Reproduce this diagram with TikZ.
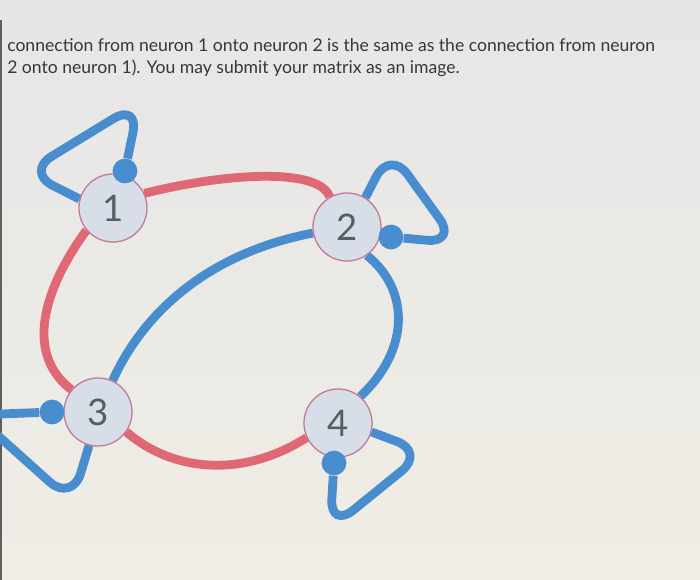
\documentclass[tikz,border=0pt]{standalone}
\usepackage{fontspec}
\setmainfont{Lato}
\definecolor{paper}{RGB}{230,230,230}
\definecolor{papercream}{RGB}{240,237,229}
\definecolor{ink}{RGB}{55,55,58}
\definecolor{digit}{RGB}{88,92,100}
\definecolor{nodefill}{RGB}{216,222,231}
\definecolor{nodeedge}{RGB}{196,118,150}
\definecolor{wirered}{RGB}{222,104,116}
\definecolor{wireblue}{RGB}{72,141,206}
\definecolor{screenedge}{RGB}{95,95,95}
\pgfdeclarelayer{back}
\pgfdeclarelayer{wires}
\pgfsetlayers{back,wires,main}

\begin{document}
\begin{tikzpicture}[
  x=0.025cm, y=-0.025cm,
  neuron/.style={circle, draw=nodeedge, line width=0.9pt, fill=nodefill, minimum size=1.7cm, inner sep=0pt, font=\fontsize{26}{26}\selectfont, text=digit},
  inhib/.style={line width=0.22cm, color=wirered},
  excit/.style={line width=0.22cm, color=wireblue},
  selfloop/.style={excit, rounded corners=0.75cm},
  knob/.style={circle, fill=wireblue, minimum size=0.62cm, inner sep=0pt}
]
\useasboundingbox (0,0) rectangle (700,580);

% Background
\begin{pgfonlayer}{back}
\shade[top color=paper, bottom color=papercream] (0,0) rectangle (700,580);
\draw[screenedge, line width=1.2pt] (1,20) -- (1,580);
\end{pgfonlayer}

% Question text
\node[anchor=north west, align=left, inner sep=0pt, text=ink, font=\fontsize{12.5}{15.6}\selectfont] (prompt) at (7,38) {connection from neuron 1 onto neuron 2 is the same as the connection from neuron\\2 onto neuron 1). You may submit your matrix as an image.};

% Neurons
\node[neuron] (n1) at (113,208) {1};
\node[neuron] (n2) at (347,227) {2};
\node[neuron] (n3) at (98,412) {3};
\node[neuron] (n4) at (338,423) {4};

% Loop ends
\node[knob] (d1) at (125,171) {};
\node[knob] (d2) at (391,237) {};
\node[knob] (d3) at (52,412) {};
\node[knob] (d4) at (334,463) {};

\begin{pgfonlayer}{wires}
% Red connections
\draw[inhib] (n1.25) .. controls (230,172) and (320,168) .. (n2.120);
\draw[inhib] (n1.220) .. controls (50,280) and (20,350) .. (n3.140);
\draw[inhib] (n3.-35) .. controls (170,470) and (240,480) .. (n4.205);

% Blue connections
\draw[excit] (n2.190) .. controls (200,255) and (140,320) .. (n3.65);
\draw[excit] (n2.-55) .. controls (410,290) and (410,350) .. (n4.50);

% Self loops
\draw[selfloop] (n1.165) -- (26,172) -- (139,103) -- (d1);
\draw[selfloop] (n2.58) -- (390,150) -- (457,243) -- (d2);
\draw[selfloop] (n3.-105) -- (72,502) -- (-25,415) -- (d3);
\draw[selfloop] (n4.-15) -- (425,452) -- (330,529) -- (d4);
\end{pgfonlayer}

\end{tikzpicture}
\end{document}
